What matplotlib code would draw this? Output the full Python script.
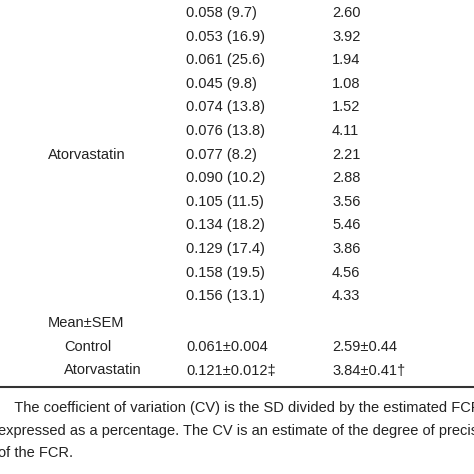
import matplotlib.pyplot as plt

fcr = ["0.058 (9.7)", "0.053 (16.9)", "0.061 (25.6)", "0.045 (9.8)", "0.074 (13.8)",
       "0.076 (13.8)", "0.077 (8.2)", "0.090 (10.2)", "0.105 (11.5)", "0.134 (18.2)",
       "0.129 (17.4)", "0.158 (19.5)", "0.156 (13.1)"]
rate = ["2.60", "3.92", "1.94", "1.08", "1.52", "4.11", "2.21", "2.88", "3.56",
        "5.46", "3.86", "4.56", "4.33"]
group_labels = {6: "Atorvastatin"}
summary = [("Control", "0.061\u00b10.004", "2.59\u00b10.44"),
           ("Atorvastatin", "0.121\u00b10.012\u2021", "3.84\u00b10.41\u2020")]
footnote = ["    The coefficient of variation (CV) is the SD divided by the estimated FCR,",
            "expressed as a percentage. The CV is an estimate of the degree of precision",
            "of the FCR."]

plt.rcParams['font.family'] = ['Liberation Sans', 'DejaVu Sans']
fig = plt.figure(figsize=(4.74, 4.74), dpi=100)
ax = fig.add_axes([0, 0, 1, 1])
ax.set_xlim(0, 474)
ax.set_ylim(474, 0)
ax.axis("off")

fs = 10.5
y0, dy = 13, 23.6
for i, (a, b) in enumerate(zip(fcr, rate)):
    y = y0 + i * dy
    if i in group_labels:
        ax.text(48, y, group_labels[i], fontsize=fs, va="center", color="#222")
    ax.text(186, y, a, fontsize=fs, va="center", color="#222")
    ax.text(332, y, b, fontsize=fs, va="center", color="#222")

ax.text(48, 323, "Mean\u00b1SEM", fontsize=fs, va="center", color="#222")
for j, (lab, a, b) in enumerate(summary):
    y = 347 + j * 23.5
    ax.text(64, y, lab, fontsize=fs, va="center", color="#222")
    ax.text(186, y, a, fontsize=fs, va="center", color="#222")
    ax.text(332, y, b, fontsize=fs, va="center", color="#222")

ax.plot([0, 474], [387, 387], color="#333", lw=1.5)
for k, line in enumerate(footnote):
    ax.text(-2, 408 + k * 22.5, line, fontsize=fs, va="center", color="#222")

fig.savefig("out.png", dpi=100)
